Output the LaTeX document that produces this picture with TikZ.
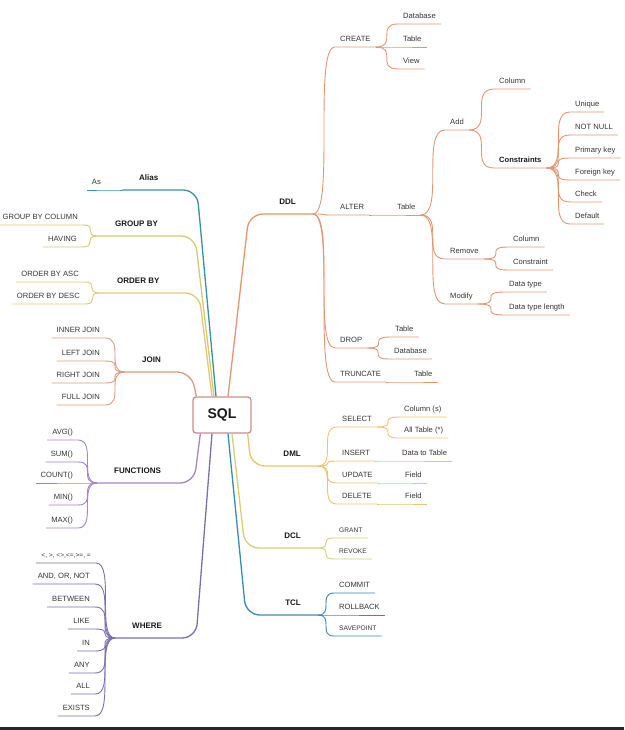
\documentclass[tikz,border=0pt]{standalone}
\usepackage{fontspec}
\setmainfont{Liberation Sans}
\usetikzlibrary{calc}
\definecolor{ddlc}{RGB}{226,150,112}
\definecolor{dmlc}{RGB}{236,196,108}
\definecolor{dclc}{RGB}{212,208,118}
\definecolor{tclc}{RGB}{58,138,180}
\definecolor{aliasc}{RGB}{52,146,164}
\definecolor{groupc}{RGB}{206,204,110}
\definecolor{orderc}{RGB}{232,198,112}
\definecolor{joinc}{RGB}{218,156,128}
\definecolor{funcc}{RGB}{166,132,200}
\definecolor{wherec}{RGB}{124,110,176}
\definecolor{sqlc}{RGB}{204,140,140}
\definecolor{txtc}{RGB}{52,52,52}
\def\forkr[#1](#2)(#3){\draw[#1] (#2) .. controls (#2 -| #3.south west) and (#3.south west -| #2) .. (#3.south west) -- (#3.south east);}
\def\forkl[#1](#2)(#3){\draw[#1] (#2) .. controls (#2 -| #3.south east) and (#3.south east -| #2) .. (#3.south east) -- (#3.south west);}
\tikzset{
  leaf/.style={font=\fontsize{7.6}{8}\selectfont, text=txtc, inner xsep=5pt, inner ysep=3.5pt, text height=5.5pt, text depth=1.8pt},
  leafr/.style={leaf, anchor=south west},
  leafl/.style={leaf, anchor=south east},
  smallleaf/.style={font=\fontsize{6.6}{7}\selectfont},
  topic/.style={font=\fontsize{8}{9}\selectfont\bfseries, text=black!90, inner xsep=17pt, inner ysep=7.2pt, text height=5.8pt, text depth=1.8pt},
  topicr/.style={topic, anchor=south east},
  topicl/.style={topic, anchor=south west},
  sqlbox/.style={draw=sqlc, line width=1.3pt, rounded corners=3pt, fill=white, minimum width=58pt, minimum height=36pt, text=black!90, font=\fontsize{14}{16}\selectfont\bfseries},
  branch/.style={line width=1.3pt, rounded corners=14pt},
  twig/.style={line width=.9pt},
}

\begin{document}
\begin{tikzpicture}[x=1pt, y=-1pt]
			%%%%% START %%%%%
			\useasboundingbox (0,0) rectangle (624,730);
			
			\node[sqlbox] (sql) at (222,415) {SQL};
			
			%%%%% RIGHT %%%%%
			\node[topicr] (ddl) at (313,214) {DDL};
			\node[topicr] (dml) at (318,466) {DML};
			\node[topicr] (dcl) at (318,548) {DCL};
			\node[topicr] (tcl) at (318,615) {TCL};
			
			\coordinate (kddl) at (249,214);
			\coordinate (kdml) at (251,466);
			\coordinate (kdcl) at (245,548);
			\coordinate (ktcl) at (246,615);
			\draw[branch, ddlc] ($(sql.north)+(6,0)$) -- (kddl) -- (ddl.south east);
			\draw[branch, dmlc] ($(sql.south east)+(-4,0)$) -- (kdml) -- (dml.south east);
			\draw[branch, dclc] ($(sql.south)+(10,0)$) -- (kdcl) -- (dcl.south east);
			\draw[branch, tclc] ($(sql.south)+(6,0)$) -- (ktcl) -- (tcl.south east);
			
			% DDL
			\node[leafr] (create) at (335,47) {CREATE};
			\node[leafr] (alter) at (335,215) {ALTER};
			\node[leafr] (drop) at (335,348) {DROP};
			\node[leafr] (trunc) at (335,382) {TRUNCATE};
			\forkr[twig, ddlc](ddl.south east)(create)
			\forkr[twig, ddlc](ddl.south east)(alter)
			\forkr[twig, ddlc](ddl.south east)(drop)
			\forkr[twig, ddlc](ddl.south east)(trunc)
			
			\node[leafr] (crdb) at (398,24) {Database};
			\node[leafr] (crtab) at (398,47) {Table};
			\node[leafr] (crview) at (398,69) {View};
			\forkr[twig, ddlc](create.south east)(crdb)
			\forkr[twig, ddlc](create.south east)(crtab)
			\forkr[twig, ddlc](create.south east)(crview)
			
			\node[leafr] (altab) at (392,215) {Table};
			\forkr[twig, ddlc](alter.south east)(altab)
			
			\node[leafr] (add) at (445,130) {Add};
			\node[leafr] (remove) at (445,259) {Remove};
			\node[leafr] (modify) at (445,304) {Modify};
			\forkr[twig, ddlc](altab.south east)(add)
			\forkr[twig, ddlc](altab.south east)(remove)
			\forkr[twig, ddlc](altab.south east)(modify)
			
			\node[leafr] (addcol) at (494,89) {Column};
			\node[leafr, font=\fontsize{7.6}{8}\selectfont\bfseries, text=black!90] (cons) at (494,168) {Constraints};
			\forkr[twig, ddlc](add.south east)(addcol)
			\forkr[twig, ddlc](add.south east)(cons)
			
			\node[leafr] (uniq) at (570,112) {Unique};
			\node[leafr] (notnull) at (570,135) {NOT NULL};
			\node[leafr] (pkey) at (570,158) {Primary key};
			\node[leafr] (fkey) at (570,180) {Foreign key};
			\node[leafr] (check) at (570,202) {Check};
			\node[leafr] (default) at (570,224) {Default};
			\forkr[twig, ddlc](cons.south east)(uniq)
			\forkr[twig, ddlc](cons.south east)(notnull)
			\forkr[twig, ddlc](cons.south east)(pkey)
			\forkr[twig, ddlc](cons.south east)(fkey)
			\forkr[twig, ddlc](cons.south east)(check)
			\forkr[twig, ddlc](cons.south east)(default)
			
			\node[leafr] (rmcol) at (508,247) {Column};
			\node[leafr] (rmcons) at (508,270) {Constraint};
			\forkr[twig, ddlc](remove.south east)(rmcol)
			\forkr[twig, ddlc](remove.south east)(rmcons)
			
			\node[leafr] (dtype) at (504,292) {Data type};
			\node[leafr] (dtlen) at (504,315) {Data type length};
			\forkr[twig, ddlc](modify.south east)(dtype)
			\forkr[twig, ddlc](modify.south east)(dtlen)
			
			\node[leafr] (drtab) at (390,337) {Table};
			\node[leafr] (drdb) at (389,359) {Database};
			\forkr[twig, ddlc](drop.south east)(drtab)
			\forkr[twig, ddlc](drop.south east)(drdb)
			
			\node[leafr] (trtab) at (409,382) {Table};
			\forkr[twig, ddlc](trunc.south east)(trtab)
			
			% DML
			\node[leafr] (select) at (337,427) {SELECT};
			\node[leafr] (insert) at (337,461) {INSERT};
			\node[leafr] (update) at (337,483) {UPDATE};
			\node[leafr] (delete) at (337,504) {DELETE};
			\forkr[twig, dmlc](dml.south east)(select)
			\forkr[twig, dmlc](dml.south east)(insert)
			\forkr[twig, dmlc](dml.south east)(update)
			\forkr[twig, dmlc](dml.south east)(delete)
			
			\node[leafr] (selcol) at (399,417) {Column (s)};
			\node[leafr] (seltab) at (399,438) {All Table (*)};
			\forkr[twig, dmlc](select.south east)(selcol)
			\forkr[twig, dmlc](select.south east)(seltab)
			\node[leafr] (insdata) at (397,461) {Data to Table};
			\forkr[twig, dmlc](insert.south east)(insdata)
			\node[leafr] (updfield) at (400,483) {Field};
			\forkr[twig, dmlc](update.south east)(updfield)
			\node[leafr] (delfield) at (400,504) {Field};
			\forkr[twig, dmlc](delete.south east)(delfield)
			
			% DCL
			\node[leafr, smallleaf] (grant) at (334,538) {GRANT};
			\node[leafr, smallleaf] (revoke) at (334,559) {REVOKE};
			\forkr[twig, dclc](dcl.south east)(grant)
			\forkr[twig, dclc](dcl.south east)(revoke)
			
			% TCL
			\node[leafr] (commit) at (334,593) {COMMIT};
			\node[leafr] (rollback) at (334,615) {ROLLBACK};
			\node[leafr, smallleaf] (savept) at (334,636) {SAVEPOINT};
			\forkr[twig, tclc](tcl.south east)(commit)
			\forkr[twig, tclc](tcl.south east)(rollback)
			\forkr[twig, tclc](tcl.south east)(savept)
			
			%%%%% LEFT %%%%%
			\node[topicl] (alias) at (122,190) {Alias};
			\node[topicl] (groupby) at (98,236) {GROUP BY};
			\node[topicl] (orderby) at (100,293) {ORDER BY};
			\node[topicl] (join) at (125,372) {JOIN};
			\node[topicl] (funcs) at (97,483) {FUNCTIONS};
			\node[topicl] (where) at (115,638) {WHERE};
			
			\coordinate (kalias) at (197,190);
			\coordinate (kgroup) at (195,236);
			\coordinate (korder) at (199,293);
			\coordinate (kjoin) at (191,372);
			\coordinate (kfunc) at (194,483);
			\coordinate (kwhere) at (196,638);
			\draw[branch, aliasc] ($(sql.north)+(-6,0)$) -- (kalias) -- (alias.south west);
			\draw[branch, groupc] ($(sql.north)+(-8,0)$) -- (kgroup) -- (groupby.south west);
			\draw[branch, orderc] ($(sql.north)+(-10,0)$) -- (korder) -- (orderby.south west);
			\draw[branch, joinc] ($(sql.north west)+(4,0)$) -- (kjoin) -- (join.south west);
			\draw[branch, funcc] ($(sql.south west)+(8,0)$) -- (kfunc) -- (funcs.south west);
			\draw[branch, wherec] ($(sql.south)+(-10,0)$) -- (kwhere) -- (where.south west);
			
			% Alias
			\node[leafl] (as) at (106,190) {As};
			\forkl[twig, aliasc](alias.south west)(as)
			
			% GROUP BY
			\node[leafl] (gbcol) at (83,225) {GROUP BY COLUMN};
			\node[leafl] (having) at (82,247) {HAVING};
			\forkl[twig, groupc](groupby.south west)(gbcol)
			\forkl[twig, groupc](groupby.south west)(having)
			
			% ORDER BY
			\node[leafl] (obasc) at (84,282) {ORDER BY ASC};
			\node[leafl] (obdesc) at (85,304) {ORDER BY DESC};
			\forkl[twig, orderc](orderby.south west)(obasc)
			\forkl[twig, orderc](orderby.south west)(obdesc)
			
			% JOIN
			\node[leafl] (jinner) at (105,338) {INNER JOIN};
			\node[leafl] (jleft) at (105,361) {LEFT JOIN};
			\node[leafl] (jright) at (105,383) {RIGHT JOIN};
			\node[leafl] (jfull) at (105,405) {FULL JOIN};
			\forkl[twig, joinc](join.south west)(jinner)
			\forkl[twig, joinc](join.south west)(jleft)
			\forkl[twig, joinc](join.south west)(jright)
			\forkl[twig, joinc](join.south west)(jfull)
			
			% FUNCTIONS
			\node[leafl] (favg) at (78,440) {AVG()};
			\node[leafl] (fsum) at (78,462) {SUM()};
			\node[leafl] (fcount) at (78,483) {COUNT()};
			\node[leafl] (fmin) at (78,505) {MIN()};
			\node[leafl] (fmax) at (78,528) {MAX()};
			\forkl[twig, funcc](funcs.south west)(favg)
			\forkl[twig, funcc](funcs.south west)(fsum)
			\forkl[twig, funcc](funcs.south west)(fcount)
			\forkl[twig, funcc](funcs.south west)(fmin)
			\forkl[twig, funcc](funcs.south west)(fmax)
			
			% WHERE
			\node[leafl, smallleaf] (wops) at (96,563) {<, >, <>,<=,>=, =};
			\node[leafl] (wand) at (95,584) {AND, OR, NOT};
			\node[leafl] (wbetw) at (95,607) {BETWEEN};
			\node[leafl] (wlike) at (95,629) {LIKE};
			\node[leafl] (win) at (95,651) {IN};
			\node[leafl] (wany) at (95,673) {ANY};
			\node[leafl] (wall) at (95,694) {ALL};
			\node[leafl] (wexists) at (95,716) {EXISTS};
			\forkl[twig, wherec](where.south west)(wops)
			\forkl[twig, wherec](where.south west)(wand)
			\forkl[twig, wherec](where.south west)(wbetw)
			\forkl[twig, wherec](where.south west)(wlike)
			\forkl[twig, wherec](where.south west)(win)
			\forkl[twig, wherec](where.south west)(wany)
			\forkl[twig, wherec](where.south west)(wall)
			\forkl[twig, wherec](where.south west)(wexists)
			
			\fill[black!85] (0,727) rectangle (624,730);
			%%%%% END %%%%%
\end{tikzpicture}
\end{document}
